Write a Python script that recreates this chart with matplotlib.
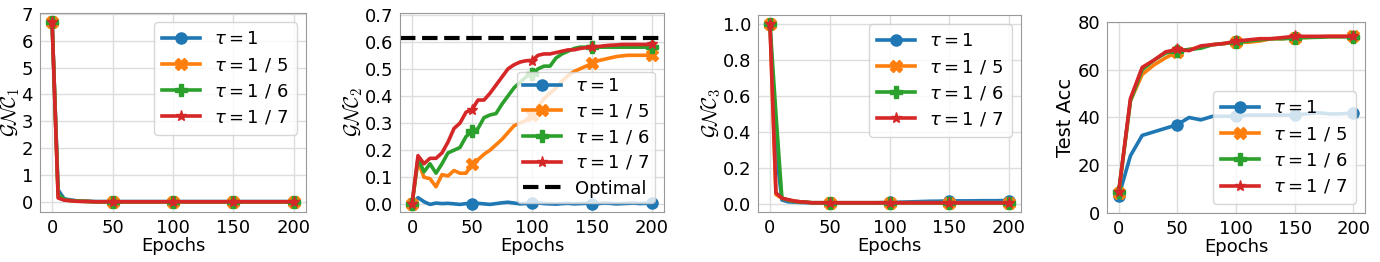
import numpy as np
import matplotlib
matplotlib.use("Agg")
from matplotlib import pyplot as plt

# epochs (every 5) for the GNC panels, every 10 for test acc
epochs = list(range(0, 201, 5))
epochs_acc = list(range(0, 201, 10))

labels = [r"$\tau=1$", r"$\tau=1\ /\ 5$", r"$\tau=1\ /\ 6$", r"$\tau=1\ /\ 7$"]
colors = ["#1f77b4", "#ff7f0e", "#2ca02c", "#d62728"]
markers = ["o", "X", "P", "*"]

# GNC1
gnc1_t1 = [6.7, 0.45, 0.12, 0.08, 0.05, 0.04, 0.03] + [0.02] * 34
gnc1_t5 = [6.7, 0.2, 0.08, 0.05, 0.04, 0.03, 0.02] + [0.01] * 34
gnc1_t6 = [6.7, 0.3, 0.1, 0.06, 0.04, 0.03, 0.02] + [0.01] * 34
gnc1_t7 = [6.7, 0.15, 0.07, 0.05, 0.03, 0.02, 0.02] + [0.01] * 34

# GNC2
gnc2_t1 = [0.0, 0.025, 0.01, 0.0, 0.005, 0.003, 0.004, 0.002, 0.0, 0.003, 0.0,
           0.004, 0.002, 0.0, 0.003, 0.006, 0.008, 0.005, 0.002, 0.003, 0.004,
           0.006, 0.003, 0.002, 0.001, 0.003, 0.004, 0.002, 0.003, 0.004, 0.002,
           0.003, 0.005, 0.004, 0.002, 0.003, 0.004, 0.005, 0.003, 0.004, 0.005]
gnc2_t5 = [0.0, 0.16, 0.10, 0.095, 0.065, 0.11, 0.105, 0.125, 0.115, 0.115, 0.15,
           0.165, 0.185, 0.20, 0.22, 0.24, 0.265, 0.29, 0.30, 0.31, 0.33,
           0.36, 0.39, 0.41, 0.43, 0.455, 0.475, 0.49, 0.50, 0.51, 0.52,
           0.53, 0.535, 0.54, 0.545, 0.548, 0.55, 0.55, 0.55, 0.55, 0.55]
gnc2_t6 = [0.0, 0.17, 0.12, 0.15, 0.115, 0.15, 0.19, 0.20, 0.21, 0.25, 0.27,
           0.28, 0.32, 0.33, 0.335, 0.37, 0.40, 0.43, 0.45, 0.47, 0.48,
           0.50, 0.51, 0.51, 0.54, 0.555, 0.565, 0.575, 0.58, 0.58, 0.58,
           0.58, 0.58, 0.58, 0.58, 0.58, 0.58, 0.58, 0.58, 0.58, 0.58]
gnc2_t7 = [0.0, 0.18, 0.15, 0.17, 0.17, 0.19, 0.23, 0.28, 0.30, 0.34, 0.35,
           0.385, 0.385, 0.41, 0.44, 0.47, 0.50, 0.515, 0.525, 0.53, 0.53,
           0.55, 0.555, 0.555, 0.56, 0.565, 0.57, 0.57, 0.575, 0.578, 0.58,
           0.582, 0.585, 0.587, 0.588, 0.59, 0.59, 0.59, 0.59, 0.59, 0.59]
optimal = 0.615

# GNC3
gnc3_t1 = [1.0, 0.3, 0.02, 0.01, 0.008, 0.006, 0.005, 0.005, 0.005, 0.005, 0.005,
           0.005, 0.005, 0.005, 0.005, 0.005, 0.005, 0.005, 0.005, 0.006, 0.006,
           0.007, 0.008, 0.009, 0.01, 0.011, 0.012, 0.013, 0.013, 0.014, 0.014,
           0.015, 0.015, 0.015, 0.015, 0.016, 0.016, 0.016, 0.016, 0.017, 0.017]
gnc3_t5 = [1.0, 0.05, 0.03, 0.02, 0.012, 0.01, 0.008] + [0.005] * 34
gnc3_t6 = [1.0, 0.5, 0.03, 0.02, 0.012, 0.01, 0.008] + [0.004] * 34
gnc3_t7 = [1.0, 0.06, 0.03, 0.022, 0.015, 0.01, 0.008] + [0.004] * 34

# Test Acc
acc_t1 = [7, 24, 32.5, 34, 35.5, 37, 40, 39, 40.5, 40.5, 40.5,
          41, 41, 41, 41, 41, 41.5, 42, 41.5, 41.5, 42]
acc_t5 = [8.5, 47, 58, 62, 65, 67.5, 68.5, 69.5, 70.5, 71, 71.5,
          71.5, 72, 73, 73, 73.5, 73.5, 73.8, 74, 74, 74]
acc_t6 = [9, 47, 60, 64, 67, 68, 68.5, 69, 70.5, 71, 71.5,
          72, 72.5, 73, 73, 73.3, 73.5, 73.6, 73.8, 73.8, 73.8]
acc_t7 = [9, 48, 61, 64, 67.5, 68.5, 68, 70, 70.5, 71, 72,
          72.5, 73, 73, 73.5, 74, 74, 74, 74, 74, 74]

FS = 13
plt.rcParams['font.size'] = FS
plt.rcParams['mathtext.fontset'] = 'dejavusans'

fig = plt.figure(figsize=(13.8, 2.62), dpi=100)
# axes boxes in pixels: left, top, right, bottom
boxes = [(40, 13, 306, 212), (400, 13, 664, 212), (758, 15, 1021, 212), (1107, 22, 1365, 213)]
ax_list = [fig.add_axes([l / 1380, 1 - b / 262, (r - l) / 1380, (b - t) / 262])
           for l, t, r, b in boxes]


def draw(ax, x, series, every):
    for s, lab, c, m in zip(series, labels, colors, markers):
        ax.plot(x, s, color=c, marker=m, markevery=every, markersize=8,
                linewidth=2.6, label=lab)


def style(ax):
    ax.grid(True, color="#dddddd", linewidth=1)
    ax.set_axisbelow(True)
    ax.tick_params(length=0, pad=5, labelsize=FS)
    for sp in ax.spines.values():
        sp.set_color("#999999")
    ax.set_xticks([0, 50, 100, 150, 200])
    ax.set_xlim(-10, 210)
    ax.set_xlabel("Epochs", fontsize=FS, labelpad=0)


def legend(ax, loc, spacing=0.45, pad=0.45):
    ax.legend(loc=loc, fontsize=FS, handlelength=2.1, labelspacing=spacing,
              borderpad=pad, handletextpad=0.8)


ax = ax_list[0]
draw(ax, epochs, [gnc1_t1, gnc1_t5, gnc1_t6, gnc1_t7], 10)
style(ax)
ax.set_ylim(-0.37, 7.03)
ax.set_yticks(range(0, 8))
ax.set_ylabel(r"$\mathcal{GNC}_1$", fontsize=15, labelpad=0, math_fontfamily='cm')
legend(ax, "upper right")

ax = ax_list[1]
draw(ax, epochs, [gnc2_t1, gnc2_t5, gnc2_t6, gnc2_t7], 10)
ax.axhline(optimal, color="black", linestyle="--", linewidth=3, label="Optimal")
style(ax)
ax.set_ylim(-0.028, 0.706)
ax.set_yticks(np.arange(0, 0.71, 0.1))
ax.set_ylabel(r"$\mathcal{GNC}_2$", fontsize=15, labelpad=0, math_fontfamily='cm')
legend(ax, "lower right", spacing=0.42, pad=0.3)

ax = ax_list[2]
draw(ax, epochs, [gnc3_t1, gnc3_t5, gnc3_t6, gnc3_t7], 10)
style(ax)
ax.set_ylim(-0.047, 1.05)
ax.set_yticks(np.arange(0, 1.01, 0.2))
ax.set_ylabel(r"$\mathcal{GNC}_3$", fontsize=15, labelpad=0, math_fontfamily='cm')
legend(ax, "upper right")

ax = ax_list[3]
draw(ax, epochs_acc, [acc_t1, acc_t5, acc_t6, acc_t7], 5)
style(ax)
ax.set_ylim(0, 80)
ax.set_yticks(range(0, 81, 20))
ax.set_ylabel("Test Acc", fontsize=FS + 1, labelpad=2)
legend(ax, "lower right")

fig.savefig("out.png", dpi=100)
